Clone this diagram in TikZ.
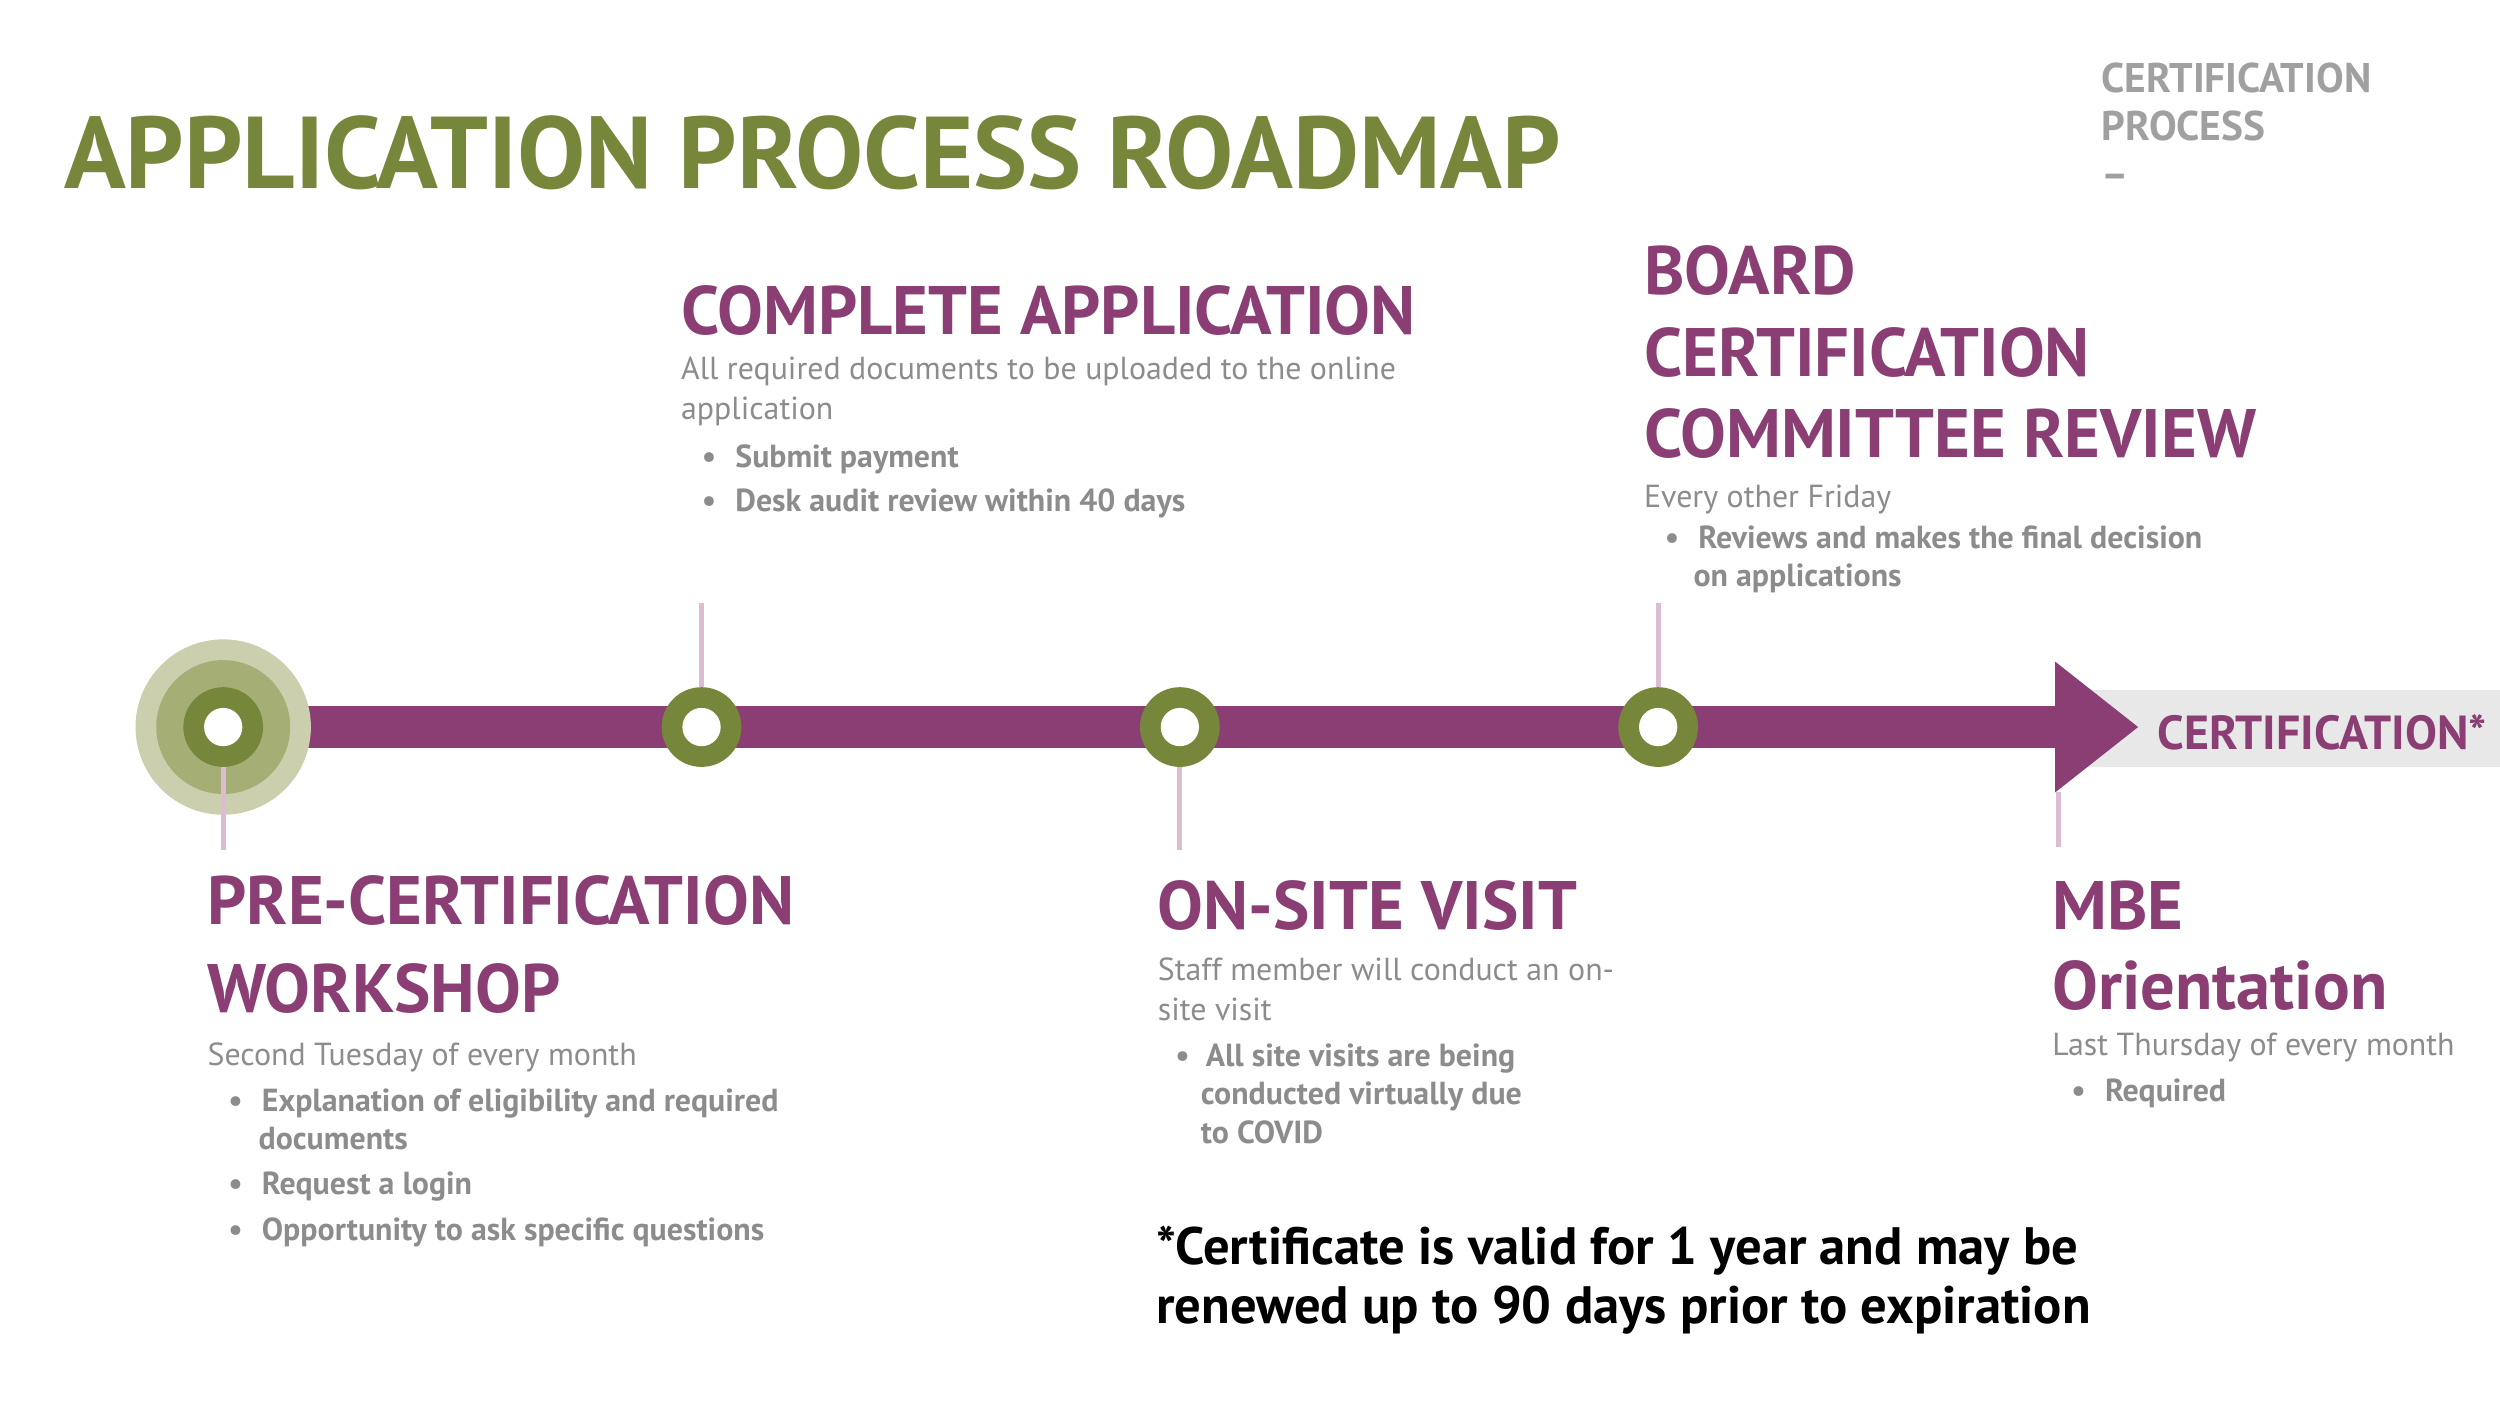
\documentclass[tikz,border=0pt]{standalone}
\usepackage{fontspec}
\setmainfont{PT Sans}
\definecolor{olive}{HTML}{76873B}
\definecolor{purp}{HTML}{8A3E74}
\definecolor{gtxt}{HTML}{8C8C8C}
\definecolor{gtop}{HTML}{A0A0A0}
\definecolor{tick}{HTML}{DCBCD0}
\definecolor{halo1}{HTML}{CBCFAE}
\definecolor{halo2}{HTML}{A5AF75}
\begin{document}
\begin{tikzpicture}[x=1pt,y=-1pt,
 every node/.style={inner sep=0pt,anchor=base west},
 head/.style={font=\fontsize{43}{43}\selectfont\bfseries,text=purp},
 body/.style={font=\fontsize{20}{20}\selectfont,text=gtxt},
 bul/.style={font=\fontsize{20}{20}\selectfont\bfseries,text=gtxt},
 dot/.style={circle,fill=olive,minimum size=50pt,anchor=center},
 hole/.style={circle,fill=white,minimum size=24pt,anchor=center},
 tk/.style={tick,line width=3pt}]
\useasboundingbox (0,0) rectangle (1568,880);
\fill[white] (0,0) rectangle (1568,880);
\node[font=\fontsize{64}{64}\selectfont\bfseries,text=olive] (title) at (40,118) {APPLICATION PROCESS ROADMAP};
\node[font=\fontsize{26}{26}\selectfont\bfseries,text=gtop] (tr1) at (1318,58) {CERTIFICATION};
\node[font=\fontsize{26}{26}\selectfont\bfseries,text=gtop] (tr2) at (1318,88) {PROCESS};
\node[font=\fontsize{26}{26}\selectfont\bfseries,text=gtop] (tr3) at (1318,118) {–};
% ticks
\coordinate (t1a) at (140,533); \coordinate (t2a) at (440,378);
\coordinate (t3a) at (740,533); \coordinate (t4a) at (1040,378);
\coordinate (t5a) at (1291,497); \coordinate (t5b) at (1291,531);
% band and arrow
\fill[black!9] (1300,433) rectangle (1568,481);
\fill[purp] (140,443) rectangle (1292,469);
\fill[purp] (1289,415) -- (1341,456) -- (1289,497) -- cycle;
\node[font=\fontsize{30}{30}\selectfont\bfseries,text=purp] (cert) at (1353,470) {CERTIFICATION*};
\fill[halo1] (140,456) circle (55);
\fill[halo2] (140,456) circle (42);
\node[dot] (c1) at (140,456) {}; \node[hole] at (c1) {};
\node[dot] (c2) at (440,456) {}; \node[hole] at (c2) {};
\node[dot] (c3) at (740,456) {}; \node[hole] at (c3) {};
\node[dot] (c4) at (1040,456) {}; \node[hole] at (c4) {};
\begin{scope}[on background layer/.style={}]
\end{scope}
\draw[tk] (c1.south) -- (t1a);
\draw[tk] (t2a) -- (c2.north);
\draw[tk] (c3.south) -- (t3a);
\draw[tk] (t4a) -- (c4.north);
\draw[tk] (t5a) -- (t5b);
% complete application
\node[head] (h2) at (427,210) {COMPLETE APPLICATION};
\node[body] at (427,238) {All required documents to be uploaded to the online};
\node[body] at (427,263) {application};
\node[bul] at (440,293) {•\hspace{12pt}Submit payment};
\node[bul] at (440,321) {•\hspace{12pt}Desk audit review within 40 days};
% board
\node[head] at (1031,185) {BOARD};
\node[head] at (1031,236) {CERTIFICATION};
\node[head] at (1031,287) {COMMITTEE REVIEW};
\node[body] at (1031,318) {Every other Friday};
\node[bul] at (1044,344) {•\hspace{12pt}Reviews and makes the final decision};
\node[bul] at (1062,368) {on applications};
% pre-cert
\node[head] at (130,580) {PRE-CERTIFICATION};
\node[head] at (130,635) {WORKSHOP};
\node[body] at (130,668) {Second Tuesday of every month};
\node[bul] at (143,697) {•\hspace{12pt}Explanation of eligibility and required};
\node[bul] at (162,721) {documents};
\node[bul] at (143,749) {•\hspace{12pt}Request a login};
\node[bul] at (143,778) {•\hspace{12pt}Opportunity to ask specific questions};
% on-site
\node[head] at (726,583) {ON-SITE VISIT};
\node[body] at (726,615) {Staff member will conduct an on-};
\node[body] at (726,640) {site visit};
\node[bul] at (737,669) {•\hspace{10pt}All site visits are being};
\node[bul] at (753,693) {conducted virtually due};
\node[bul] at (753,717) {to COVID};
% MBE
\node[head] at (1287,583) {MBE};
\node[head] at (1287,633) {Orientation};
\node[body] at (1287,662) {Last Thursday of every month};
\node[bul] at (1299,691) {•\hspace{12pt}Required};
% footnote
\node[font=\fontsize{33}{33}\selectfont\bfseries] at (725,793) {*Certificate is valid for 1 year and may be};
\node[font=\fontsize{33}{33}\selectfont\bfseries] at (725,830) {renewed up to 90 days prior to expiration};
\end{tikzpicture}
\end{document}
